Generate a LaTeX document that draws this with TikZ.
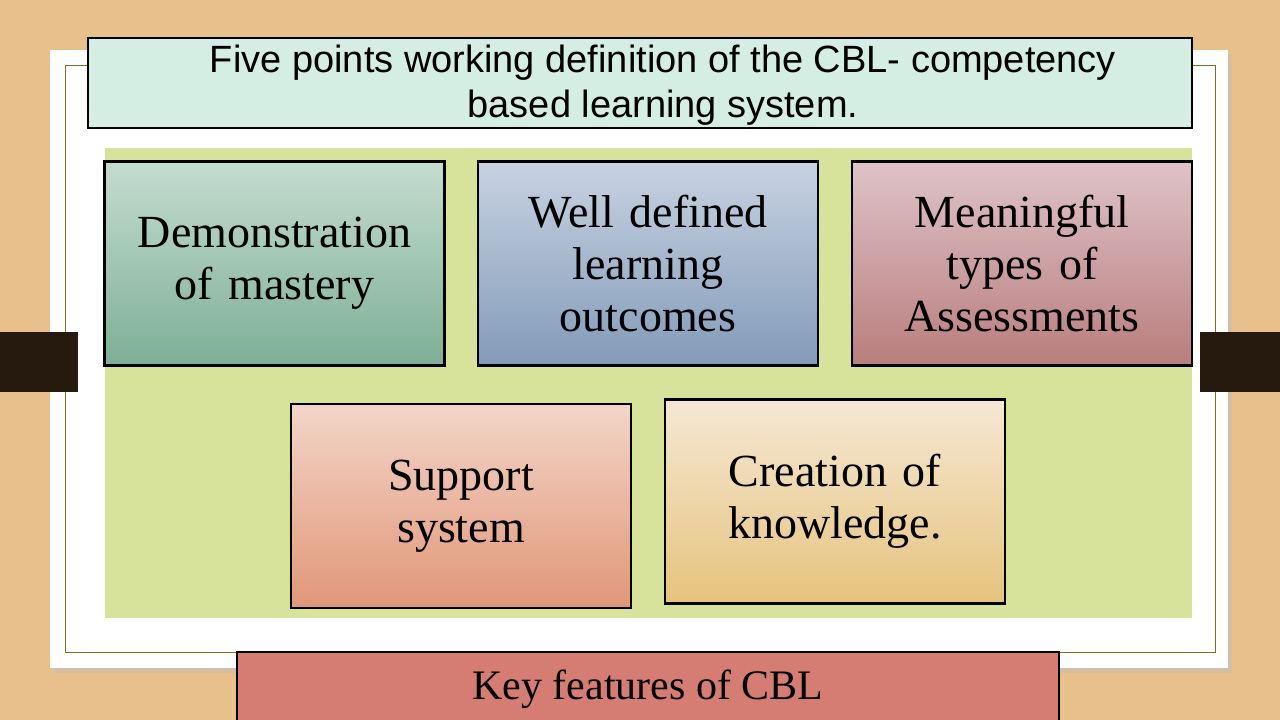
\documentclass[tikz,border=0pt]{standalone}
\usepackage{fontspec}
\setmainfont{Liberation Serif}
\newfontfamily\titlefont{Liberation Sans}
\begin{document}
\begin{tikzpicture}[x=1pt,y=-1pt,
  card/.style={draw=black,line width=2.5pt,minimum width=340pt,minimum height=204pt,align=center,font=\fontsize{46}{52}\selectfont,inner sep=0pt,text width=330pt}]
\definecolor{wood}{RGB}{232,192,140}
\useasboundingbox (0,0) rectangle (1280,720);
\fill[wood] (0,0) rectangle (1280,720);
\fill[black!25,opacity=0.5] (54,54) rectangle (1232,673);
\fill[white] (50,50) rectangle (1228,668);
\draw[olive!80!black,line width=1pt] (65,65) rectangle (1215,652);
\fill[black!80!brown] (0,332) rectangle (78,392);
\fill[black!80!brown] (1200,332) rectangle (1280,392);
\fill[RGB/.cd] ;
\definecolor{panel}{RGB}{215,226,155}
\fill[panel] (105,148) rectangle (1192,618);
\node[draw=black,line width=1.5pt,fill={rgb,255:red,213;green,238;blue,228},minimum width=1104pt,minimum height=90pt,inner sep=0pt] (title) at (640,83) {};
\node[font=\titlefont\fontsize{38}{45}\selectfont,align=center] (tt) at (663,85) {Five points working definition of the CBL- competency\\based learning system.};
\node[card,top color={rgb,255:red,196;green,220;blue,208},bottom color={rgb,255:red,125;green,175;blue,150}] (a) at (274.5,263.5) {Demonstration\\of mastery};
\node[card,top color={rgb,255:red,200;green,210;blue,225},bottom color={rgb,255:red,130;green,155;blue,185}] (b) at (648,263.5) {Well defined\\learning\\outcomes};
\node[card,top color={rgb,255:red,222;green,195;blue,200},bottom color={rgb,255:red,185;green,125;blue,125}] (c) at (1022,263.5) {Meaningful\\types of\\Assessments};
\node[card,top color={rgb,255:red,243;green,213;blue,200},bottom color={rgb,255:red,225;green,150;blue,120}] (d) at (461,506) {Support\\system};
\node[card,top color={rgb,255:red,245;green,232;blue,212},bottom color={rgb,255:red,230;green,195;blue,125}] (e) at (835,501.5) {Creation of\\knowledge.};
\node[draw=black,line width=2pt,fill={rgb,255:red,213;green,125;blue,115},minimum width=822pt,minimum height=74pt,inner sep=0pt,font=\fontsize{42}{48}\selectfont,anchor=north] (k) at (648,651) {Key features of CBL};
\end{tikzpicture}
\end{document}
